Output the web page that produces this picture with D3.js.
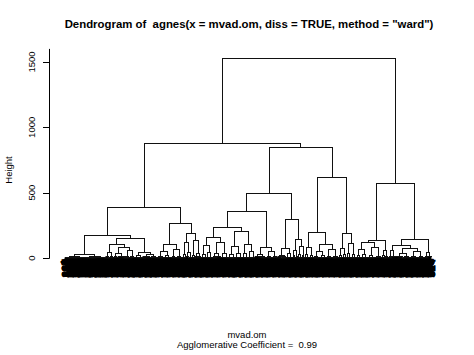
<!DOCTYPE html>
<html><head><meta charset="utf-8">
<script src="https://cdn.jsdelivr.net/npm/d3@7"></script>
<style>
body{margin:0;background:#fff}
text{font-family:"Liberation Sans",Arial,Helvetica,sans-serif;fill:#000;white-space:pre}
</style>
</head><body>
<svg id="chart" width="474" height="355"></svg>
<script>
// ---------- text ----------
const titleText = 'Dendrogram of  agnes(x = mvad.om, diss = TRUE, method = "ward")';
const xAxisLabel = "mvad.om";
const subLabel = "Agglomerative Coefficient =  0.99";
const yAxisLabel = "Height";
const yTicks = [0, 500, 1000, 1500];
const nLeaves = 712;

// ---------- tree (merge heights) ----------
// internal node: [height, left, right]; terminal group: [height, leafCount]
const clusterA1 = [392,
  [176,
    [28, [16, 36], [18, 43]],
    [155,
      [105, [45, [12, 6], [14, 8]], [87, [40, [14, 10], [12, 12]], [60, [15, 10], [18, 10]]]],
      [48, [20, 16], [30, [12, 14], [14, 14]]]]],
  [265,
    [105, [50, [16, 12], [22, 14]], [70, [18, 10], [14, 12]]],
    [189, [120, [30, 8], [45, [12, 5], [10, 5]]], [138, [25, 8], [40, [12, 5], [14, 6]]]]]];

const clusterA2 = [851,
  [494,
    [359,
      [235,
        [158, [100, [30, 10], [45, 12]], [120, [40, [15, 8], [12, 8]], [35, 15]]],
        [209, [95, [30, 12], [40, 14]], [110, [35, 12], [50, 14]]]],
      [82, [30, [12, 10], [15, 10]], [50, [14, 12], [18, 12]]]],
    [298,
      [74, [25, [12, 8], [14, 8]], [40, 12]],
      [143, [60, [20, 6], [15, 5]], [90, [30, 7], [25, 6]]]]],
  [622,
    [201,
      [87, [30, 8], [20, 9]],
      [110, [55, [15, 12], [20, 12]], [70, [18, 12], [15, 13]]]],
    [189,
      [74, [20, 8], [28, 8]],
      [112, [40, 8], [30, 10]]]]];

const clusterB = [571,
  [138,
    [120, [70, [20, 10], [30, 12]], [85, [25, 14], [18, 14]]],
    [65, [20, 6], [15, 7]]],
  [145,
    [100, [60, [15, 7], [12, 7]], [80, [40, [12, 14], [15, 14]], [55, [14, 14], [18, 14]]]],
    [45, [15, 7], [12, 7]]]];

const rootHeights = [877, 1529]; // A = A1+A2, root = A+B

const tree = [rootHeights[1], [rootHeights[0], clusterA1, clusterA2], clusterB];

// ---------- layout ----------
const svg = d3.select("#chart");
const x = d3.scaleLinear().domain([0, nLeaves - 1]).range([65, 431]);
const y = d3.scaleLinear().domain([0, 1600]).range([258, 48.9]);

const segs = [];   // [x1,h1,x2,h2] in data units
const stems = [];  // leaf indices with top height
function comb(start, n, h) {
  for (let i = 0; i < n; i++) stems.push([start + i, h]);
  if (n > 1) segs.push([start, h, start + n - 1, h]);
  return {x: start + (n - 1) / 2, top: h, n: n};
}
function layout(node, start) {
  if (node.length === 2 && typeof node[1] === "number") {
    const h = node[0], n = node[1];
    if (n === 1) { stems.push([start, 0]); return {x: start, top: 0, n: 1}; }
    if (h <= 12 || n < 4) return comb(start, n, h);
    const nl = Math.ceil(n / 2), low = 10;
    const l = comb(start, nl, low), r = comb(start + nl, n - nl, low);
    segs.push([l.x, low, l.x, h], [r.x, low, r.x, h], [l.x, h, r.x, h]);
    return {x: (l.x + r.x) / 2, top: h, n: n};
  }
  const h = node[0];
  const l = layout(node[1], start);
  const r = layout(node[2], start + l.n);
  segs.push([l.x, l.top, l.x, h], [r.x, r.top, r.x, h], [l.x, h, r.x, h]);
  return {x: (l.x + r.x) / 2, top: h, n: l.n + r.n};
}
const rootInfo = layout(tree, 0);

const snap = v => Math.round(v) + 0.5;

// leaf labels
const leafLabels = d3.range(nLeaves).map(i => String(((i * 389) % nLeaves) + 1));
svg.append("g").selectAll("text").data(leafLabels).join("text")
  .attr("transform", (d, i) => `translate(${x(i)},${y(0) + 1}) rotate(-90)`)
  .attr("text-anchor", "end")
  .attr("dominant-baseline", "central")
  .attr("font-size", 11)
  .attr("stroke", "#000").attr("stroke-width", 0.9)
  .text(d => d);

// leaf stems
svg.append("path")
  .attr("d", stems.map(([i, h]) => `M${x(i)},${y(0) + 1}V${snap(y(h))}`).join(""))
  .attr("stroke", "#000").attr("stroke-width", 1).attr("fill", "none");

// dendrogram segments
svg.append("path")
  .attr("d", segs.map(([x1, h1, x2, h2]) =>
    h1 === h2 ? `M${snap(x(x1)) - 0.5},${snap(y(h1))}H${snap(x(x2)) + 0.5}`
              : `M${snap(x(x1))},${snap(y(h1))}V${snap(y(h2))}`).join(""))
  .attr("stroke", "#111").attr("stroke-width", 1).attr("fill", "none");

// y axis
const axisX = 49;
svg.append("line").attr("x1", axisX + 0.5).attr("x2", axisX + 0.5)
  .attr("y1", y(1600)).attr("y2", snap(y(0))).attr("stroke", "#000");
svg.append("g").selectAll("line").data(yTicks).join("line")
  .attr("x1", axisX - 6).attr("x2", axisX + 0.5)
  .attr("y1", d => snap(y(d))).attr("y2", d => snap(y(d))).attr("stroke", "#000");
svg.append("g").selectAll("text").data(yTicks).join("text")
  .attr("transform", d => `translate(35,${y(d)}) rotate(-90)`)
  .attr("text-anchor", "middle").attr("font-size", 9.5).text(d => d);

// titles
svg.append("text").attr("x", 249).attr("y", 28).attr("text-anchor", "middle")
  .attr("font-size", 11.4).attr("font-weight", "bold").text(titleText);
svg.append("text").attr("transform", "translate(11.5,170) rotate(-90)")
  .attr("text-anchor", "middle").attr("font-size", 9.5).text(yAxisLabel);
svg.append("text").attr("x", 247).attr("y", 338).attr("text-anchor", "middle")
  .attr("font-size", 9.5).text(xAxisLabel);
svg.append("text").attr("x", 247).attr("y", 348).attr("text-anchor", "middle")
  .attr("font-size", 9.5).text(subLabel);
</script>
</body></html>
